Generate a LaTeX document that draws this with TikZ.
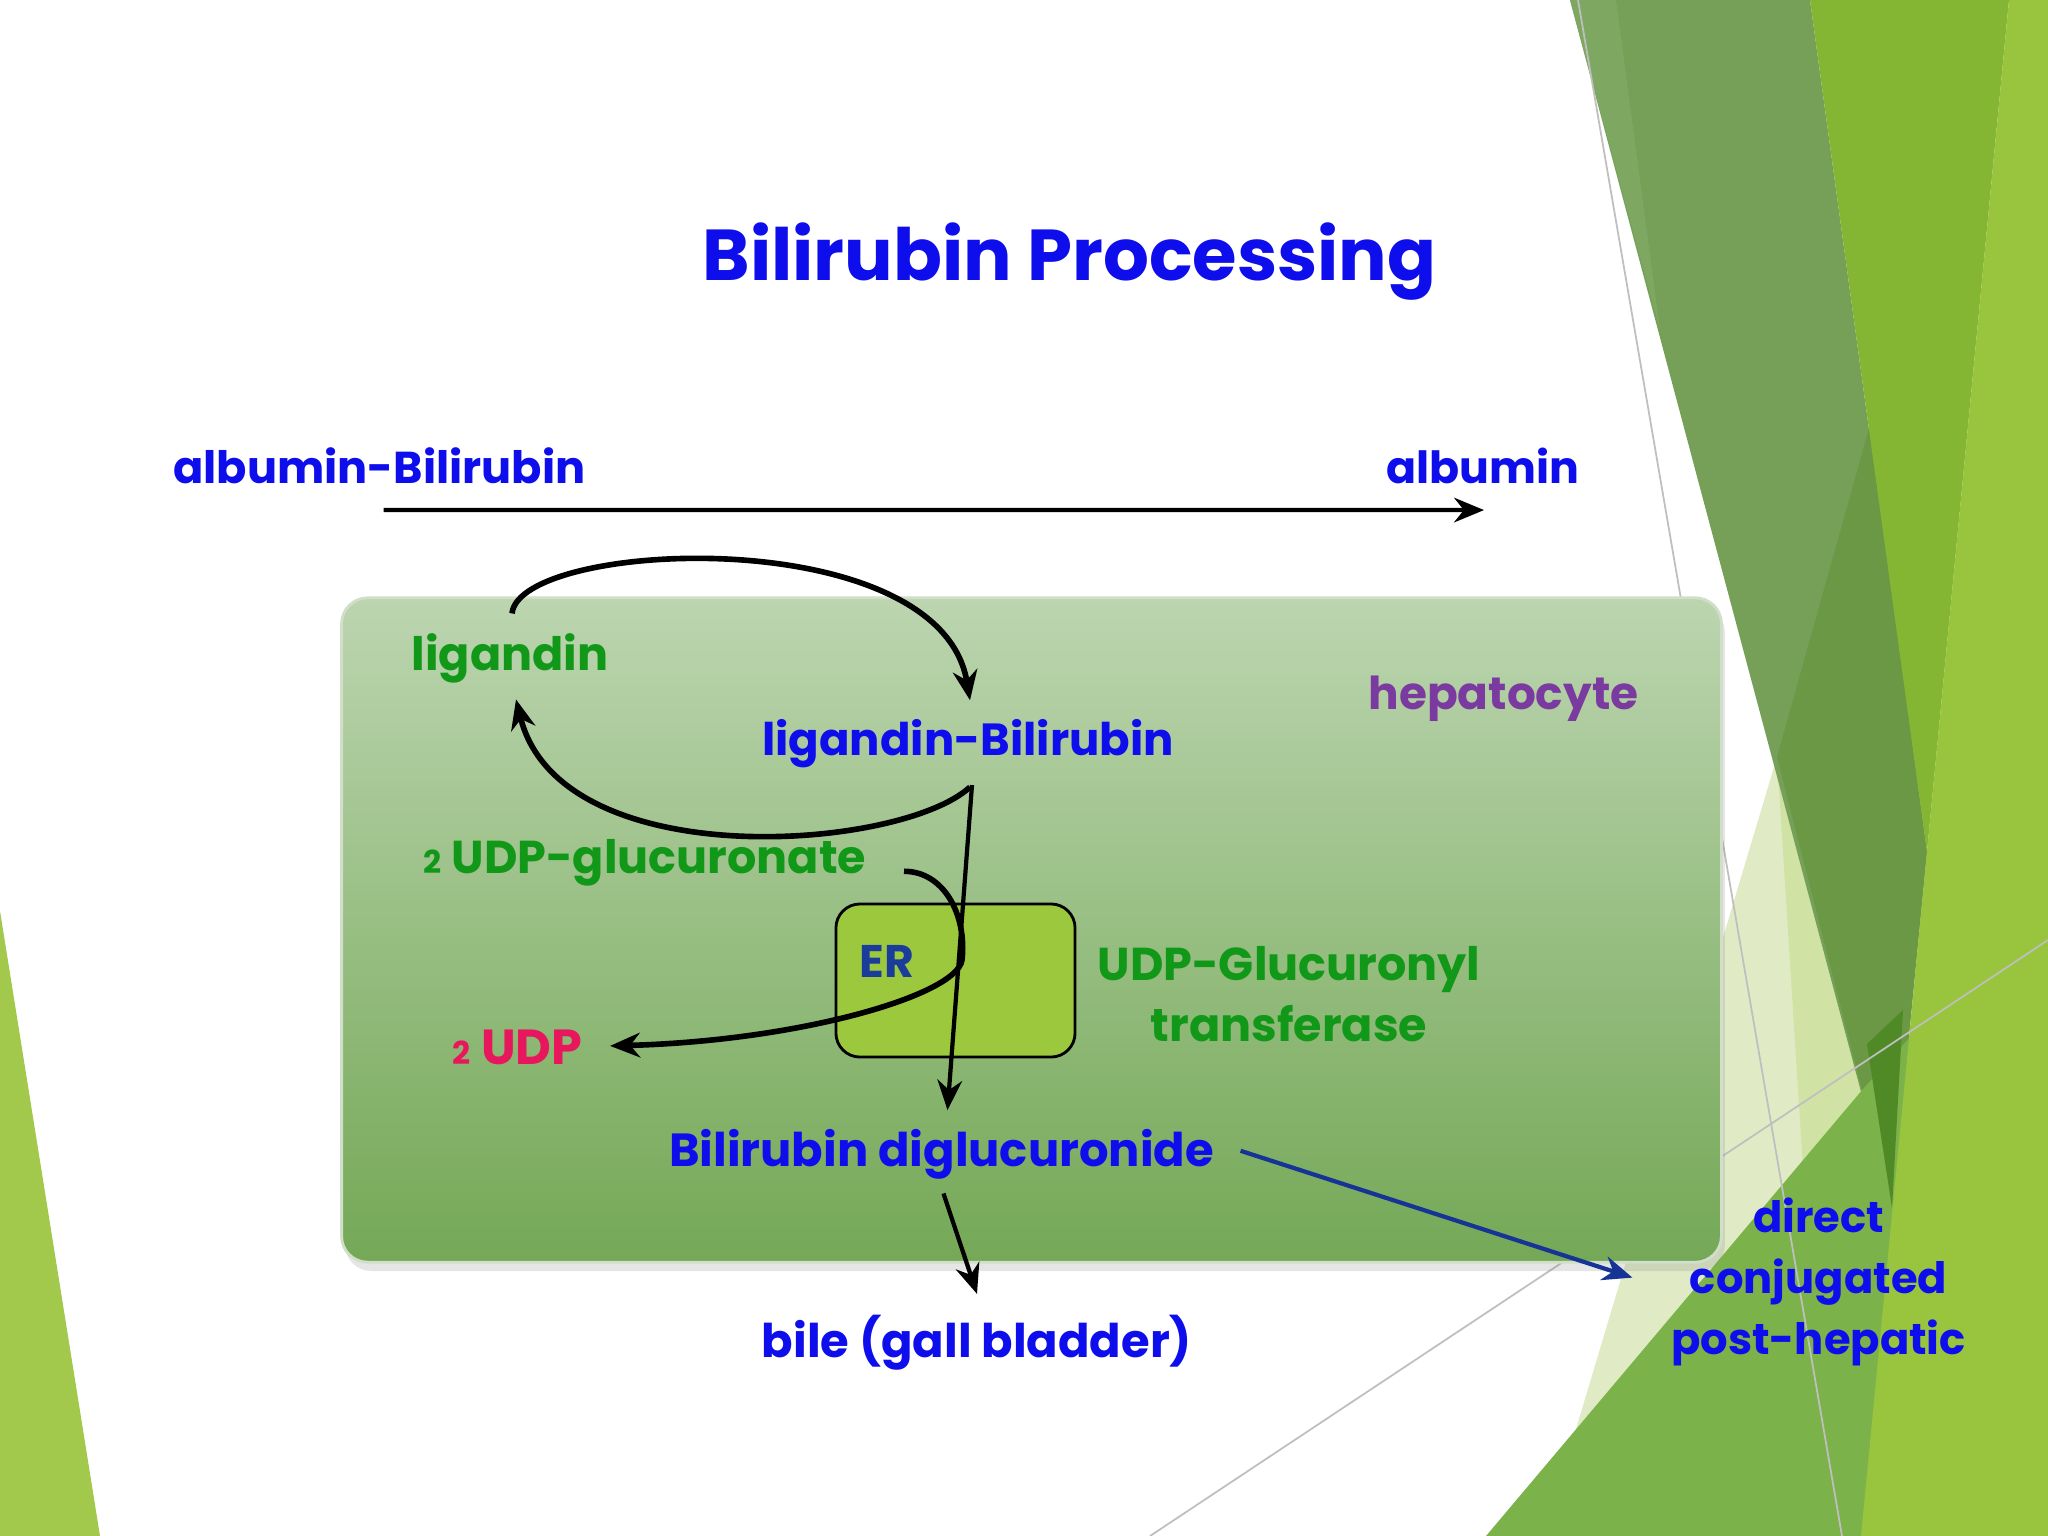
\documentclass[tikz,border=0pt]{standalone}
\usepackage{fontspec}
\setmainfont{Poppins}
\usepackage{tikz}
\usetikzlibrary{arrows.meta, positioning, calc, shadows}

\definecolor{txtblue}{RGB}{14,14,236}
\definecolor{txtgreen}{RGB}{18,152,24}
\definecolor{txtpurple}{RGB}{122,58,160}
\definecolor{txtpink}{RGB}{232,22,92}
\definecolor{erblue}{RGB}{26,60,155}
\definecolor{arrowblue}{RGB}{22,52,150}
\definecolor{cellTop}{RGB}{188,213,176}
\definecolor{cellBot}{RGB}{116,168,86}
\definecolor{cellEdge}{RGB}{208,222,202}
\definecolor{erfill}{RGB}{156,200,62}
\definecolor{olive}{RGB}{118,160,88}
\definecolor{oliveDk}{RGB}{106,152,68}
\definecolor{oliveLt}{RGB}{126,167,98}
\definecolor{darkgreen}{RGB}{80,138,38}
\definecolor{midgreen}{RGB}{132,182,52}
\definecolor{ltgreen}{RGB}{152,196,62}
\definecolor{wedgegreen}{RGB}{124,178,74}
\definecolor{palegreen}{RGB}{224,235,198}
\definecolor{palegreen2}{RGB}{208,226,164}
\definecolor{leftgreen}{RGB}{162,201,75}

\begin{document}
\begin{tikzpicture}[
    x=0.01cm, y=-0.01cm,
    lbl/.style={font=\bfseries\fontsize{#1}{17.3}\selectfont, inner sep=0pt, anchor=base, align=center},
    lbl/.default=13,
    title/.style={font=\bfseries\fontsize{20.5}{24}\selectfont, inner sep=0pt, anchor=base, text=txtblue},
    arrow/.style={-{Stealth[length=8.5pt, width=7pt]}, line width=1.6pt},
    thinarrow/.style={-{Stealth[length=8.5pt, width=7pt]}, line width=1.2pt},
    cellbox/.style={rectangle, rounded corners=0.26cm, top color=cellTop, bottom color=cellBot,
        draw=cellEdge, line width=0.8pt, drop shadow={opacity=0.2, shadow xshift=1pt, shadow yshift=-2.5pt}},
    erbox/.style={rectangle, rounded corners=0.24cm, fill=erfill, draw=black, line width=0.8pt},
    deco/.style={draw=black!25, line width=0.5pt},
]

% slide background
\fill[white] (0,0) rectangle (2048,1536);
\useasboundingbox (0,0) rectangle (2048,1536);
\fill[leftgreen] (0,911) -- (100,1536) -- (0,1536) -- cycle;
\fill[palegreen] (1690,450) -- (1900,1230) -- (1544,1536) -- (1777,757) -- cycle;
\fill[palegreen2] (1777,757) -- (1892,1208) -- (1805,1200) -- cycle;
\fill[olive] (1570,0) -- (1810,0) -- (1927,852) -- (1892,1208) -- cycle;
\fill[oliveDk] (1870,425) -- (1927,852) -- (1892,1208) -- (1777,757) -- cycle;
\fill[oliveLt] (1570,0) -- (1616,0) -- (1660,330) -- cycle;
\fill[midgreen] (1810,0) -- (2009,0) -- (1927,852) -- cycle;
\fill[wedgegreen] (1486,1536) -- (1863,1089) -- (2048,885) -- (2048,1536) -- cycle;
\fill[darkgreen] (1867,1044) -- (1903,1010) -- (1892,1208) -- cycle;
\fill[ltgreen] (2009,0) -- (2048,0) -- (2048,1536) -- (1861,1536) -- cycle;
\draw[deco] (1578,0) -- (1842,1536);
\draw[deco] (1150,1536) -- (2048,940);

% cell and ER
\node[cellbox, minimum width=13.79cm, minimum height=6.64cm] (cell) at (1031.5,930) {};
\node[erbox, minimum width=2.39cm, minimum height=1.53cm] (er) at (955.5,980.5) {};

% labels
\node[title] (ttl) at (1069.5,280) {Bilirubin Processing};
\node[lbl=12.7, text=txtblue] (albBil) at (379.5,483) {albumin-Bilirubin};
\node[lbl=12.6, text=txtblue] (alb) at (1483,483) {albumin};
\node[lbl=13.1, text=txtgreen] (lig) at (510,670) {ligandin};
\node[lbl=12.8, text=txtblue] (ligB) at (968,755) {ligandin-Bilirubin};
\node[lbl=12.9, text=txtpurple] (hep) at (1503.5,709) {hepatocyte};
\node[lbl=13.1, text=txtgreen] (udpg) at (645,873) {{\fontsize{9}{9}\selectfont 2}~UDP-glucuronate};
\node[lbl, text=erblue, anchor=base west] (erlbl) at (859,977) {ER};
\node[lbl=13.1, text=txtgreen] (ugt) at (1289,1041) {UDP-Glucuronyl\\transferase};
\node[lbl=14, text=txtpink] (udp) at (517.5,1064) {{\fontsize{9}{9}\selectfont 2}~UDP};
\node[lbl=13.2, text=txtblue] (bdg) at (941.5,1166) {Bilirubin diglucuronide};
\node[lbl=13.2, text=txtblue] (bile) at (977,1357) {bile (gall bladder)};
\node[lbl=12.3, text=txtblue] (dcp) at (1818.5,1354) {direct\\conjugated\\post-hepatic};

% arrows
\draw[thinarrow] ($(albBil.south)+(4,26)$) -- ($(alb.south)+(1,26)$);
\draw[arrow] ($(lig.north)+(2,-19)$) .. controls +(8,-74) and +(-30,-180) .. ($(ligB.north)+(2,-18)$);
\draw[arrow] ($(ligB.south)+(2,19)$) .. controls +(-70,64) and +(44,177) .. ($(lig.south)+(6,16)$);
\draw[thinarrow] ($(ligB.south)+(4,17)$) -- ($(bdg.north)+(6,-18)$);
\draw[arrow] ($(udpg.east)+(37,9)$) .. controls +(40,0) and +(5,-45) .. (962,960)
    .. controls +(-5,35) and +(190,-5) .. ($(udp.east)+(27,-1)$);
\draw[thinarrow] ($(bdg.south)+(2,14)$) -- ($(bile.north)+(0,-20)$);
\draw[thinarrow, draw=arrowblue] ($(bdg.east)+(26,-3)$) -- ($(dcp.west)+(-38,-4)$);

\end{tikzpicture}
\end{document}
